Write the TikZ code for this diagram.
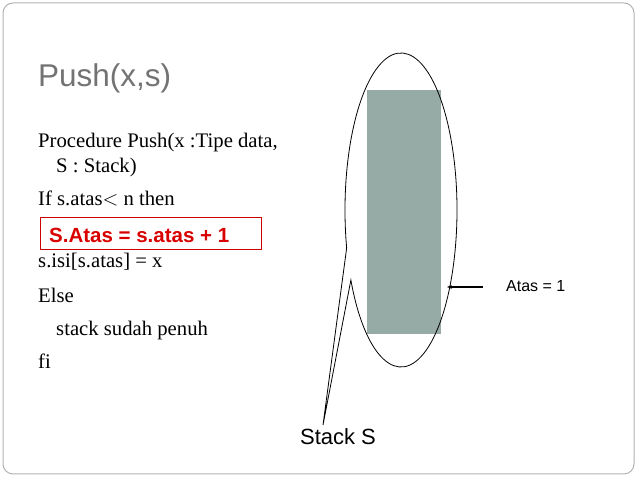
\documentclass[tikz,border=0pt]{standalone}
\usetikzlibrary{calc,arrows.meta}
\usepackage{fontspec}
\setmainfont{Liberation Serif}
\setsansfont{Liberation Sans}
\begin{document}
\begin{tikzpicture}[x=1pt,y=1pt,
  body/.style={anchor=base west,inner sep=0,font=\fontsize{20.7}{20.7}\selectfont},
  lbl/.style={font=\sffamily\fontsize{22}{22}\selectfont,inner sep=0}]
\useasboundingbox (0,0) rectangle (638,478);
\draw[gray!60,line width=1pt,rounded corners=10] (3,4) rectangle (634,475);
\node[anchor=base west,inner sep=0,text=gray!90!black,font=\sffamily\fontsize{31.5}{31.5}\selectfont] (t) at (38,391) {Push(x,s)};
\node[body] (l1) at (38,330) {Procedure Push(x :Tipe data,};
\node[body] (l2) at (56,305) {S : Stack)};
\node[body] (l3) at (38,272) {If s.atas$<$ n then};
\node[draw=red!80!black,line width=1pt,fill=white,minimum width=221,minimum height=32,anchor=south west,inner sep=0] (box) at (40,228) {};
\node[anchor=west,inner sep=0,text=red!85!black,font=\sffamily\bfseries\fontsize{20.5}{20.5}\selectfont] (rb) at (49,243) {S.Atas = s.atas + 1};
\node[body] (l4) at (38,210) {s.isi[s.atas] = x};
\node[body] (l5) at (38,175) {Else};
\node[body] (l6) at (56,142) {stack sudah penuh};
\node[body] (l7) at (38,109) {fi};
\fill[fill={rgb,255:red,150;green,170;blue,166}] (367,144) rectangle (441,388);
\coordinate (c) at (401,268);
\coordinate (tip) at (323,53);
\draw[line width=0.8pt] ($(c)+(206.5:56 and 157)$) arc[start angle=206.5,end angle=554,x radius=56,y radius=157] -- (tip) -- cycle;
\node[lbl,anchor=base] (ss) at (338,33) {Stack S};
\node[font=\sffamily\fontsize{16}{16}\selectfont,inner sep=0,anchor=west] (atas) at (506,192) {Atas = 1};
\coordinate (a1) at (483,191);
\coordinate (a2) at (447,191);
\draw[line width=2pt,-{Stealth[length=5pt]}] (a1) -- (a2);
\end{tikzpicture}
\end{document}
